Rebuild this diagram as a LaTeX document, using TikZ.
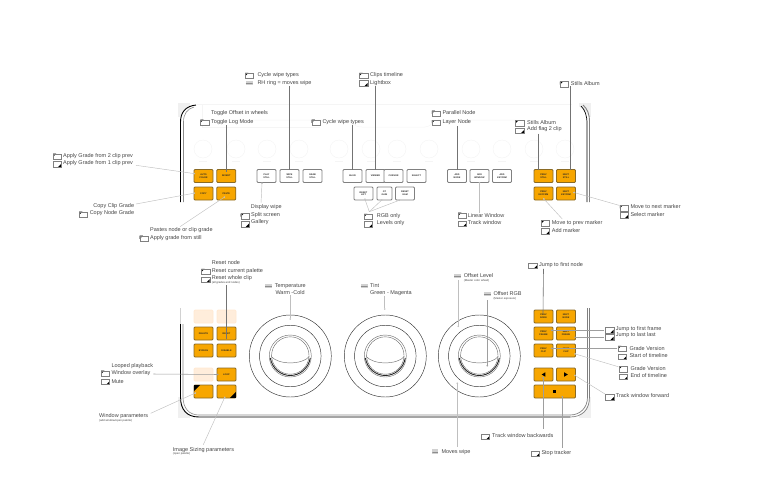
\documentclass[tikz,border=0pt]{standalone}
\usepackage{fontspec}
\setmainfont{Liberation Sans}
\usetikzlibrary{arrows.meta}
\definecolor{keyorange}{HTML}{F7A600}
\definecolor{keyedge}{HTML}{8A6A24}
\definecolor{labgrey}{HTML}{444444}
\tikzset{
  lab/.style={anchor=west,inner sep=0pt,text=labgrey,font=\fontsize{5.5}{6}\selectfont},
  labr/.style={anchor=east,inner sep=0pt,text=labgrey,font=\fontsize{5.5}{6}\selectfont},
  tiny/.style={anchor=west,inner sep=0pt,text=labgrey,font=\fontsize{2.8}{3}\selectfont},
  keybase/.style={rounded corners=1pt,minimum width=19pt,minimum height=13pt,inner sep=0pt,align=center,
    font=\fontsize{2.3}{2.6}\bfseries\selectfont,text=black!85},
  okey/.style={keybase,draw=keyedge,line width=0.9pt,fill=keyorange},
  wkey/.style={keybase,draw=black!50,line width=0.9pt,fill=white},
  fkey/.style={keybase,draw=orange!18,line width=0.7pt,fill=orange!14},
  iconbox/.style={draw=black!50,line width=0.35pt,fill=white,minimum width=8.4pt,minimum height=5.6pt,inner sep=0pt},
  icontl/.style={iconbox,path picture={\fill[black] (path picture bounding box.north west) -- ++(3.2,0) -- ++(-3.2,3.2) -- cycle;}},
  iconbr/.style={iconbox,path picture={\fill[black] (path picture bounding box.south east) -- ++(-3.2,0) -- ++(3.2,-3.2) -- cycle;}},
  icong/.style={fill=black!18,minimum width=7pt,minimum height=3.4pt,inner sep=0pt,
    path picture={\draw[black!45,line width=0.3pt] (path picture bounding box.west) -- (path picture bounding box.east);}},
  leaddark/.style={draw=black!55,line width=0.6pt},
  leadmid/.style={draw=black!38,line width=0.55pt,-{Circle[length=1.6pt,fill=black!12]}},
  leadlight/.style={draw=black!25,line width=0.45pt,-{Circle[length=1.6pt,fill=black!10]}},
  faintknob/.style={draw=black!4,line width=0.5pt,circle,minimum size=18pt,inner sep=0pt},
  faintline/.style={draw=black!4,line width=0.5pt},
  ring/.style={draw=black!80,line width=0.45pt,circle,inner sep=0pt},
}
\begin{document}
\begin{tikzpicture}[x=1pt,y=-1pt]
\useasboundingbox (0,0) rectangle (768,496);

% ---- top panel, faint art
\fill[black!6] (178,103) rectangle (190,117);
\fill[black!6] (579,103) rectangle (591,117);
\fill[white] (180,122) .. controls (180,112) and (186,105) .. (197,105) -- (570,105) .. controls (582,105) and (589,112) .. (589,122) -- cycle;
\draw[faintline] (197,104) -- (572,104);
\draw[faintline] (202,120) -- (344,120) .. controls (352,120) and (352,127) .. (362,127) -- (425,127) .. controls (432,127) and (432,120) .. (440,120) -- (515,120);
\draw[faintline] (202,104) -- (202,127) -- (320,127);
\foreach \kx in {203,236,267,299,339,371,397,429,471,502,534,565}{
  \node[faintknob] at (\kx,149) {};
  \draw[faintline] (\kx-4,161) -- (\kx+4,161);
}
% panel outline, top
\draw[black,line width=0.9pt] (180.5,202) -- (180.5,122) .. controls (180.5,112) and (186,106) .. (196,105);
\draw[black!45,line width=0.6pt] (183.5,202) -- (183.5,122) .. controls (183.5,114) and (187,109) .. (194,107);
\draw[black,line width=0.7pt] (587,202) -- (587,124) .. controls (587,115) and (585,110) .. (581,106);
\draw[black!50,line width=0.9pt] (589.5,202) -- (589.5,122) .. controls (589.5,114) and (587.5,109) .. (583,105);

% ---- bottom panel
\fill[black!6] (178,397) rectangle (190,418);
\fill[black!6] (579,397) rectangle (591,418);
\fill[white] (181,395) .. controls (181,408) and (186,415) .. (197,415.5) -- (572,415.5) .. controls (584,415) and (589,408) .. (589,395) -- cycle;
\draw[black!18,line width=0.7pt] (180,308) -- (180,324);
\draw[black,line width=0.9pt] (180.5,324) -- (180.5,397) .. controls (180.5,410) and (187,417) .. (199,417) -- (570,417);
\draw[black!45,line width=0.6pt] (183,324) -- (183,397) .. controls (183,408) and (189,415) .. (199,415) -- (570,415);
\draw[black!50,line width=0.7pt] (570,417) .. controls (582,417) and (589.5,410) .. (589.5,397) -- (589.5,308);
\draw[black!50,line width=0.7pt] (570,415) .. controls (580,415) and (587.5,408) .. (587.5,397) -- (587.5,308);

% ---- wheels
\foreach \wx/\wn in {290.3/wa,385.3/wb,479.3/wc}{
  \node[ring,minimum size=82pt] (\wn o) at (\wx,356) {};
  \node[ring,minimum size=61.5pt] (\wn m) at (\wx,356) {};
  \node[ring,draw=black!55,minimum size=42pt] (\wn b) at (\wx,356) {};
  \draw[black!85,line width=0.9pt] (\wx-20,358) .. controls (\wx-18,369) and (\wx-9,375.5) .. (\wx,375.5) .. controls (\wx+9,375.5) and (\wx+18,369) .. (\wx+20,358);
  \draw[black!60,line width=0.4pt] (\wx,355.5) circle[radius=18.7];
  \draw[black!55,line width=0.45pt] (\wx-19,356.5) .. controls (\wx-12,365) and (\wx+12,365) .. (\wx+19,356.5);
}

% ---- top keys
\node[okey] (auto) at (203.5,176) {AUTO\\COLOR};
\node[okey] (invert) at (226.25,176) {INVERT};
\node[okey] (copy) at (203.5,193.5) {COPY};
\node[okey] (paste) at (226.25,193.5) {PASTE};
\node[wkey] (play) at (266.5,176) {PLAY\\STILL};
\node[wkey] (wipe) at (289.5,176) {WIPE\\STILL};
\node[wkey] (grab) at (312.5,176) {GRAB\\STILL};
\node[wkey] (blur) at (352.5,176) {BLUR};
\node[wkey] (viewer) at (375.5,176) {VIEWER};
\node[wkey] (cursor) at (393.5,176) {CURSOR};
\node[wkey] (select) at (416.5,176) {SELECT};
\node[wkey] (rlift) at (363.5,193.5) {RESET\\LIFT};
\node[wkey,minimum width=15pt] (gt) at (384.5,193.5) {GT\\GAIN};
\node[wkey] (rgam) at (405,193.5) {RESET\\GAM};
\node[wkey] (anode) at (457,176) {ADD\\NODE};
\node[wkey] (awin) at (479.5,176) {ADD\\WINDOW};
\node[wkey] (akey) at (502,176) {ADD\\KEYFRM};
\node[okey] (pstill) at (543.5,176) {PREV\\STILL};
\node[okey] (nstill) at (566,176) {NEXT\\STILL};
\node[okey] (pkey) at (543.5,193.5) {PREV\\KEYFRM};
\node[okey] (nkey) at (566,193.5) {NEXT\\KEYFRM};

% ---- lower keys
\node[fkey] (fa) at (203.5,316.5) {};
\node[fkey] (fb) at (226.5,316.5) {};
\node[okey] (delete) at (203.5,333.5) {DELETE};
\node[okey] (reset) at (226.5,333.5) {RESET};
\node[okey] (bypass) at (203.5,350.5) {BYPASS};
\node[okey] (disable) at (226.5,350.5) {DISABLE};
\node[fkey] (fc) at (203.5,374.5) {};
\node[okey] (loop) at (226.5,374.5) {LOOP};
\node[okey] (winp) at (203.5,391.5) {};
\node[okey] (sizp) at (226.5,391.5) {};
\fill[black] (winp.north west) ++(0.5,0.5) -- ++(6,0) -- ++(-6,6) -- cycle;
\fill[black] (sizp.south east) ++(-0.5,-0.5) -- ++(-6,0) -- ++(6,-6) -- cycle;
\node[okey] (pnode) at (543.5,316.5) {PREV\\NODE};
\node[okey] (nnode) at (566,316.5) {NEXT\\NODE};
\node[okey] (pframe) at (543.5,333.5) {PREV\\FRAME};
\node[okey] (nframe) at (566,333.5) {NEXT\\FRAME};
\node[okey] (pclip) at (543.5,350.5) {PREV\\CLIP};
\node[okey] (nclip) at (566,350.5) {NEXT\\CLIP};
\node[okey] (back) at (543.5,374.5) {};
\node[okey] (fwd) at (566,374.5) {};
\node[okey,minimum width=41.5pt] (stop) at (554.75,391.5) {};
\fill[black] ([shift={(1.8,-2.2)}]back.center) -- ++(0,4.4) -- ++(-3.6,-2.2) -- cycle;
\fill[black] ([shift={(-1.8,-2.2)}]fwd.center) -- ++(0,4.4) -- ++(3.6,-2.2) -- cycle;
\fill[black] ([shift={(-1.7,-1.7)}]stop.center) rectangle ++(3.4,3.4);

% ---- labels, upper
\node[lab] (l1a) at (211,113.3) {Toggle Offset in wheels};
\node[icontl] (i1) at (204.5,122.5) {};
\node[lab] (l1b) at (211,122.5) {Toggle Log Mode};
\node[icontl] (i2a) at (57.2,156.5) {};
\node[lab] (l2a) at (63,155.7) {Apply Grade from 2 clip prev};
\node[iconbr] (i2b) at (57.2,164) {};
\node[lab] (l2b) at (63,163) {Apply Grade from 1 clip prev};
\node[labr] (l3a) at (134.3,206.3) {Copy Clip Grade};
\node[labr] (l3b) at (134.3,213.3) {Copy Node Grade};
\node[icontl] (i3) at (83.3,214.5) {};
\node[lab] (l4a) at (150,230.3) {Pastes node or clip grade};
\node[icontl] (i4) at (143.9,238.5) {};
\node[lab] (l4b) at (150,237.7) {Apply grade from still};
\node[lab] (l5a) at (250.7,207.3) {Display wipe};
\node[icontl] (i5a) at (244.9,216.3) {};
\node[lab] (l5b) at (251,215.3) {Split screen};
\node[iconbr] (i5b) at (244.9,224) {};
\node[lab] (l5c) at (251,222.3) {Gallery};
\node[icontl] (i6) at (249.4,75.7) {};
\node[lab] (l6a) at (257.3,75) {Cycle wipe types};
\node[icong] (i6g) at (249,83) {};
\node[lab] (l6b) at (257.3,83) {RH ring = moves wipe};
\node[icontl] (i7a) at (363.5,75.7) {};
\node[lab] (l7a) at (370,75) {Clips timeline};
\node[iconbr] (i7b) at (363.5,83.3) {};
\node[lab] (l7b) at (370,83) {Lightbox};
\node[icontl] (i8) at (315.9,122.5) {};
\node[lab] (l8) at (322.3,122.3) {Cycle wipe types};
\node[icontl] (i9a) at (436,113.5) {};
\node[lab] (l9a) at (442.3,113) {Parallel Node};
\node[icontl] (i9b) at (436,122.8) {};
\node[lab] (l9b) at (442.3,122.3) {Layer Node};
\node[icontl] (i10a) at (368.3,216.7) {};
\node[lab] (l10a) at (376.7,216.3) {RGB only};
\node[iconbr] (i10b) at (368.3,224.3) {};
\node[lab] (l10b) at (376.7,223.3) {Levels only};
\node[icontl] (i11a) at (462.3,215.5) {};
\node[lab] (l11a) at (467.7,215.3) {Linear Window};
\node[iconbr] (i11b) at (462.3,223.5) {};
\node[lab] (l11b) at (467.7,222.3) {Track window};
\node[icontl] (i12) at (564,84.3) {};
\node[lab] (l12) at (570.7,84) {Stills Album};
\node[icontl] (i13a) at (519.6,123) {};
\node[lab] (l13a) at (527,122.3) {Stills Album};
\node[iconbr] (i13b) at (519.6,130.7) {};
\node[lab] (l13b) at (527,129.3) {Add flag 2 clip};
\node[icontl] (i14a) at (624,208) {};
\node[lab] (l14a) at (630.3,207) {Move to next marker};
\node[iconbr] (i14b) at (624,215.3) {};
\node[lab] (l14b) at (630.3,214.3) {Select marker};
\node[icontl] (i15a) at (545.3,223.3) {};
\node[lab] (l15a) at (551.7,223.3) {Move to prev marker};
\node[iconbr] (i15b) at (545.3,231.2) {};
\node[lab] (l15b) at (551.7,230.3) {Add marker};

% ---- labels, lower
\node[lab] (m1a) at (211.7,262.7) {Reset node};
\node[icontl] (j1a) at (205.5,271.7) {};
\node[lab] (m1b) at (211.7,271) {Reset current palette};
\node[iconbr] (j1b) at (205.5,279.5) {};
\node[lab] (m1c) at (211.7,278) {Reset whole clip};
\node[tiny] (m1d) at (211.7,282.7) {(all grades and nodes)};
\node[icong] (j2) at (268.3,286) {};
\node[lab] (m2a) at (274.7,286) {Temperature};
\node[lab] (m2b) at (275.3,293) {Warm -Cold};
\node[icong] (j3) at (364,286) {};
\node[lab] (m3a) at (370,286) {Tint};
\node[lab] (m3b) at (370,293) {Green - Magenta};
\node[icong] (j4) at (457.7,276) {};
\node[lab] (m4a) at (463.7,276) {Offset Level};
\node[tiny] (m4b) at (463.7,280.7) {(Master color wheel)};
\node[icong] (j5) at (487.3,294) {};
\node[lab] (m5a) at (493.3,294) {Offset RGB};
\node[tiny] (m5b) at (493.3,298.7) {(Master exposure)};
\node[icong,minimum width=6pt,minimum height=5pt] (j6) at (435.3,451.7) {};
\node[lab] (m6) at (441.3,451.7) {Moves wipe};
\node[iconbr] (j7) at (485.2,436.7) {};
\node[lab] (m7) at (492,435.3) {Track window backwards};
\node[iconbr] (j8) at (535,453.7) {};
\node[lab] (m8) at (541.3,452.7) {Stop tracker};
\node[iconbr] (j9) at (532.8,265.8) {};
\node[lab] (m9) at (539,265) {Jump to first node};
\node[iconbr] (j10a) at (609.5,330) {};
\node[lab] (m10a) at (615.7,329.3) {Jump to first frame};
\node[iconbr] (j10b) at (609.5,337) {};
\node[lab] (m10b) at (615.7,335.3) {Jump to last last};
\node[icontl] (j11a) at (622.3,348.7) {};
\node[lab] (m11a) at (629.3,348.7) {Grade Version};
\node[iconbr] (j11b) at (622.3,356.5) {};
\node[lab] (m11b) at (629.3,355.7) {Start of timeline};
\node[icontl] (j12a) at (623.2,369) {};
\node[lab] (m12a) at (630.3,369) {Grade Version};
\node[iconbr] (j12b) at (623.2,376.8) {};
\node[lab] (m12b) at (630.3,376) {End of timeline};
\node[iconbr] (j13) at (609.8,397.3) {};
\node[lab] (m13) at (615.7,396) {Track window forward};
\node[lab] (m14a) at (111.3,365.7) {Looped playback};
\node[icontl] (j14a) at (105.3,373.5) {};
\node[lab] (m14b) at (111.3,373) {Window overlay};
\node[iconbr] (j14b) at (105.3,381.8) {};
\node[lab] (m14c) at (111.3,381.3) {Mute};
\node[lab] (m15a) at (99,416.3) {Window parameters};
\node[tiny] (m15b) at (99,421) {(add window/open palette)};
\node[lab] (m16a) at (172.7,449.7) {Image Sizing parameters};
\node[tiny] (m16b) at (172.7,453.7) {(open palette)};

% ---- connector free ends
\coordinate (f2) at (136,165.3);
\coordinate (f3) at (136,204);
\coordinate (f4) at (180,226.7);
\coordinate (f10) at (369.3,211.7);
\coordinate (f14) at (619,205.3);
\coordinate (f15) at (562.3,219);
\coordinate (f16) at (604,330.3);
\coordinate (f17) at (604,337.3);
\coordinate (f18) at (617.3,348.3);
\coordinate (f19) at (618.3,366.7);
\coordinate (f20) at (605,394);
\coordinate (f21) at (153.3,374);
\coordinate (f22) at (150.7,413.3);
\coordinate (f23) at (203.3,444.7);
\coordinate (f24) at (458.3,280);
\coordinate (f25) at (457.3,446.7);

% ---- connectors, upper
\draw[leaddark] ([shift={(0.4,0)}]invert.north |- i1.south) -- ([shift={(0.4,3)}]invert.north);
\draw[leadlight] (f2) -- ([shift={(-8.5,-2.3)}]auto.center);
\draw[leadlight] (f3) -- ([shift={(-8.5,-0.5)}]copy.center);
\draw[leadlight] (f4) -- ([shift={(-1.2,3.2)}]paste.center);
\draw[leadlight] (l5a.north -| play.west) ++(4.5,-2) -- ([shift={(-4.5,6.5)}]play.center);
\draw[leaddark] (l6b.south -| wipe.north) -- ([yshift=-1pt]wipe.north);
\draw[leaddark] (l7b.south -| viewer.north) -- ([yshift=-1pt]viewer.north);
\draw[leaddark] (i8.south -| blur.north) -- ([yshift=-1pt]blur.north);
\draw[leaddark] (i9b.south -| anode.north) -- ([yshift=-1pt]anode.north);
\draw[leadlight] (l11a.north -| awin.south) -- ([yshift=1pt]awin.south);
\draw[leadlight] (f10) -- ([shift={(1.2,5)}]rlift.center);
\draw[leadlight] (f10) -- ([shift={(-2.2,6)}]gt.center);
\draw[leadlight] (f10) -- ([shift={(-5,6.5)}]rgam.center);
\draw[leaddark] (i13b.south -| pstill.north) ++(-5.5,0) -- ([xshift=-5.5pt,yshift=-1pt]pstill.north);
\draw[leaddark] (l12.south -| nstill.north) ++(4.3,0) -- ([xshift=4.3pt,yshift=-1pt]nstill.north);
\draw[leadlight] (f14) -- ([shift={(7.3,-1.2)}]nkey.center);
\draw[leadlight] (f15) -- ([shift={(-0.2,4.8)}]pkey.center);

% ---- connectors, lower
\draw[leaddark] ([yshift=-1pt]m1d.south -| reset.north) -- ([yshift=-5.5pt]reset.center);
\draw[leadmid] (f21) -- ([xshift=-8pt]loop.center);
\draw[leadlight] (f22) -- ([shift={(-7.5,1.2)}]winp.center);
\draw[leadlight] (f23) -- ([shift={(-1.5,5.2)}]sizp.center);
\draw[leadlight] (m2b.south -| wao.north) -- ([yshift=-5pt]wao.north);
\draw[leadlight] (m3b.south -| wbo.north) ++(-0.6,0) -- ([shift={(-0.6,-5)}]wbo.north);
\draw[leadlight] (f24) -- ([shift={(-21,-29)}]wco.center);
\draw[leadmid] (m5b.south -| j5.south) -- ([xshift=8pt,yshift=-10.5pt]wcb.center);
\draw[leadlight] (f25) -- ([shift={(-22,26.5)}]wco.center);
\draw[leaddark] (j9.south -| pnode.north) -- ([shift={(-0.5,4)}]pnode.north);
\draw[leadmid] (f16) -- ([shift={(7.5,-3.2)}]pframe.center);
\draw[leadmid] (f17) -- ([shift={(8.3,3.8)}]nframe.center);
\draw[leadmid] (f18) -- ([shift={(7.5,-2.2)}]pclip.center);
\draw[leadlight] (f19) -- ([shift={(8.3,3.2)}]nclip.center);
\draw[leadlight] (f20) -- ([shift={(8.3,0.5)}]fwd.center);
\draw[leadmid] (j7.north -| back.south) ++(-0.5,-5) -- ([shift={(-0.5,2.5)}]back.center);
\draw[leadmid] (j8.north -| stop.south) ++(7.5,-3) -- ([shift={(7.5,4.5)}]stop.center);
\end{tikzpicture}
\end{document}
